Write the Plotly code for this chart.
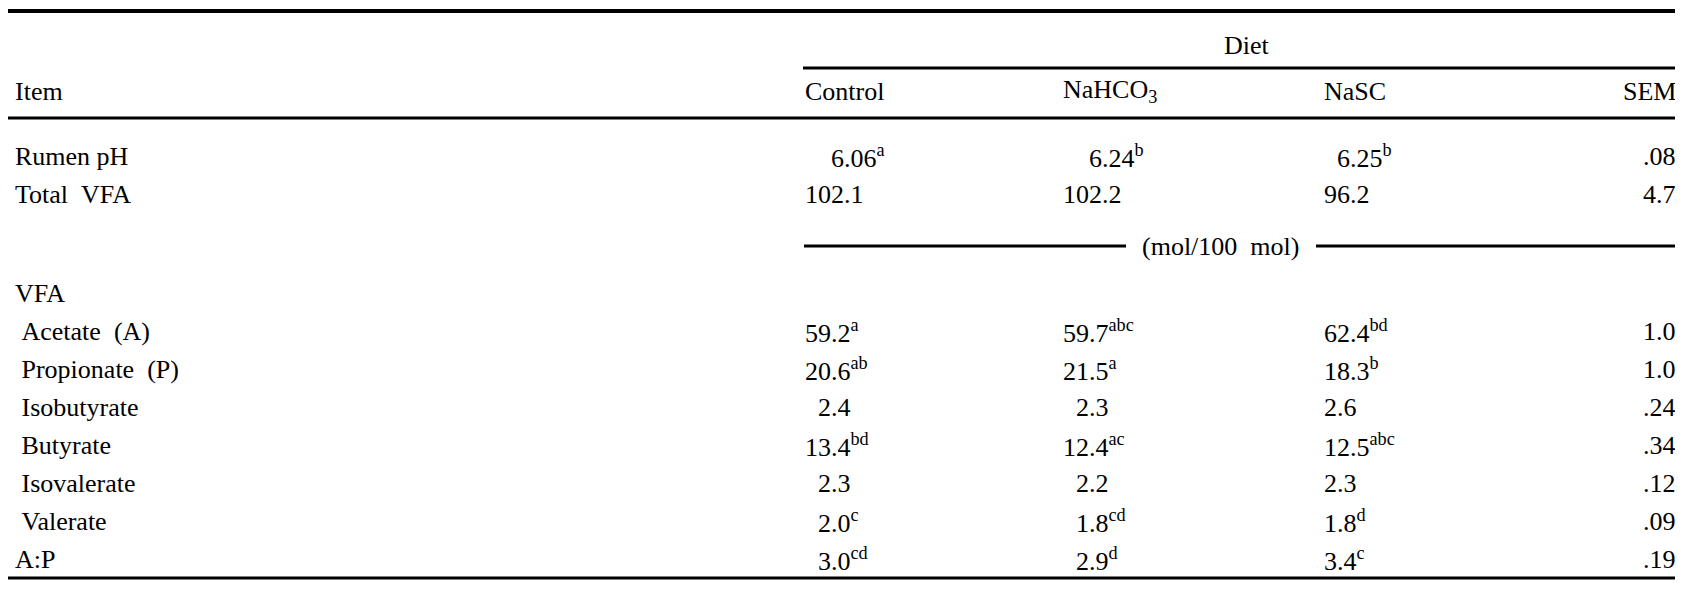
import plotly.graph_objects as go

items = ["Rumen pH", "Total  VFA", "VFA", " Acetate  (A)", " Propionate  (P)", " Isobutyrate",
         " Butyrate", " Isovalerate", " Valerate", "A:P"]
control = ["  6.06<sup>a</sup>", "102.1", "", "59.2<sup>a</sup>", "20.6<sup>ab</sup>", " 2.4",
           "13.4<sup>bd</sup>", " 2.3", " 2.0<sup>c</sup>", " 3.0<sup>cd</sup>"]
nahco3 = ["  6.24<sup>b</sup>", "102.2", "", "59.7<sup>abc</sup>", "21.5<sup>a</sup>", " 2.3",
          "12.4<sup>ac</sup>", " 2.2", " 1.8<sup>cd</sup>", " 2.9<sup>d</sup>"]
nasc = [" 6.25<sup>b</sup>", "96.2", "", "62.4<sup>bd</sup>", "18.3<sup>b</sup>", "2.6",
        "12.5<sup>abc</sup>", "2.3", "1.8<sup>d</sup>", "3.4<sup>c</sup>"]
sem = [".08", "4.7", "", "1.0", "1.0", ".24", ".34", ".12", ".09", ".19"]
row_y = [148, 186, 285, 323, 361, 399, 437, 475, 513, 551]

FONT = dict(family="Liberation Serif, Times New Roman, serif", size=26, color="black")
fig = go.Figure()
ann = []
def t(x, y, s, anchor="left"):
    ann.append(dict(x=x, y=y, text=s, showarrow=False, xanchor=anchor, yanchor="middle",
                    xref="x", yref="y", font=FONT))

t(1239, 37, "Diet", "center")
t(5, 83, "Item")
t(795, 83, "Control")
t(1053, 83, "NaHCO<sub>3</sub>")
t(1314, 83, "NaSC")
t(1670, 83, "SEM", "right")
t(1212, 238, "(mol/100  mol)", "center")
for i, y in enumerate(row_y):
    t(5, y, items[i].replace(" ", "&nbsp;"))
    t(795, y, control[i].replace(" ", "&nbsp;&nbsp;"))
    t(1053, y, nahco3[i].replace(" ", "&nbsp;&nbsp;"))
    t(1314, y, nasc[i].replace(" ", "&nbsp;&nbsp;"))
    t(1670, y, sem[i], "right")

shapes = []
def line(x0, x1, y, w):
    shapes.append(dict(type="line", x0=x0, x1=x1, y0=y, y1=y, xref="x", yref="y",
                       line=dict(color="black", width=w)))
line(0, 1683, 3, 4)
line(795, 1683, 60, 3)
line(0, 1683, 110, 3)
line(796, 1118, 238, 3)
line(1308, 1683, 238, 3)
line(0, 1683, 570, 3)

fig.update_layout(width=1683, height=603, margin=dict(l=0, r=0, t=0, b=0),
                  paper_bgcolor="white", plot_bgcolor="white",
                  annotations=ann, shapes=shapes, showlegend=False,
                  xaxis=dict(range=[0, 1683], visible=False, fixedrange=True),
                  yaxis=dict(range=[603, 0], visible=False, fixedrange=True))
fig.write_html("out.html")
